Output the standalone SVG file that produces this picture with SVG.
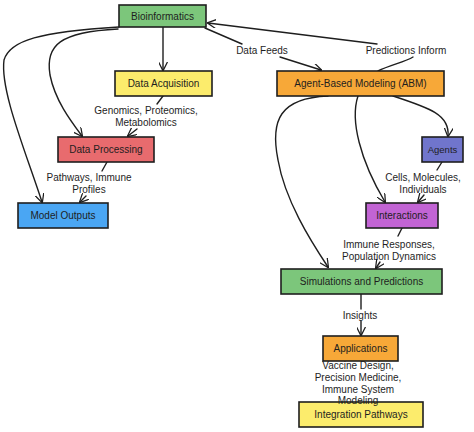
<svg xmlns="http://www.w3.org/2000/svg" width="474" height="432" viewBox="0 0 474 432">
<defs>
<marker id="ah" viewBox="0 0 10 10" refX="9" refY="5" markerWidth="9" markerHeight="9" orient="auto-start-reverse" markerUnits="userSpaceOnUse">
<path d="M0,0 L10,5 L0,10" fill="none" stroke="#1e1e1e" stroke-width="1.4"/>
</marker>
<style>
.box{stroke:#1e1e1e;stroke-width:1.6}
.t{font-family:"Liberation Sans",Arial,sans-serif;font-size:10px;fill:#1e1e1e;text-anchor:middle;dominant-baseline:central}
.e{fill:none;stroke:#1e1e1e;stroke-width:1.4;stroke-linecap:round}
</style>
</defs>
<rect width="474" height="432" fill="#ffffff"/>
<g id="connectors">
<path class="e" d="M163,27 L163,70" marker-end="url(#ah)"/>
<path class="e" d="M118,29 C60,32 45,45 50,75 C55,100 70,120 82,136" marker-end="url(#ah)"/>
<path class="e" d="M119,27 C40,32 10,40 4,60 C0,90 25,150 42,202" marker-end="url(#ah)"/>
<path class="e" d="M163,96 L157,104"/>
<path class="e" d="M137,129 L128,136" marker-end="url(#ah)"/>
<path class="e" d="M107,162 L102,171"/>
<path class="e" d="M86,196 L80,202" marker-end="url(#ah)"/>
<path class="e" d="M205,28 L242,44"/>
<path class="e" d="M280,57 L321,70" marker-end="url(#ah)"/>
<path class="e" d="M378,71 C390,65 405,62 413,57"/>
<path class="e" d="M377,44 L208,23" marker-end="url(#ah)"/>
<path class="e" d="M393,96 C430,108 450,115 448,136" marker-end="url(#ah)"/>
<path class="e" d="M358,96 C350,120 360,160 385,202" marker-end="url(#ah)"/>
<path class="e" d="M328,96 C280,98 270,120 278,160 C285,200 310,240 328,267" marker-end="url(#ah)"/>
<path class="e" d="M442,162 L437,170"/>
<path class="e" d="M424,195 L418,202" marker-end="url(#ah)"/>
<path class="e" d="M402,228 L398,236"/>
<path class="e" d="M380,262 L376,268" marker-end="url(#ah)"/>
<path class="e" d="M361,294 L361,309"/>
<path class="e" d="M361,321 L361,335" marker-end="url(#ah)"/>
</g>
<g id="labels">
<text class="t" x="262" y="50">Data Feeds</text>
<text class="t" x="406" y="50">Predictions Inform</text>
<text class="t" x="146" y="110">Genomics, Proteomics,</text>
<text class="t" x="146" y="122">Metabolomics</text>
<text class="t" x="89" y="177">Pathways, Immune</text>
<text class="t" x="89" y="189">Profiles</text>
<text class="t" x="423" y="177">Cells, Molecules,</text>
<text class="t" x="423" y="189">Individuals</text>
<text class="t" x="389" y="244">Immune Responses,</text>
<text class="t" x="389" y="256">Population Dynamics</text>
<text class="t" x="360" y="315">Insights</text>
</g>
<g id="n-bioinformatics"><rect class="box" x="119" y="5" width="87" height="22" fill="#7cc67b"/><text class="t" x="162.5" y="16">Bioinformatics</text></g>
<g id="n-data-acquisition"><rect class="box" x="115" y="71" width="97" height="25" fill="#fcec6c"/><text class="t" x="163.5" y="83.5">Data Acquisition</text></g>
<g id="n-data-processing"><rect class="box" x="58" y="137" width="96" height="25" fill="#e86b6e"/><text class="t" x="106" y="149.5">Data Processing</text></g>
<g id="n-model-outputs"><rect class="box" x="18" y="203" width="90" height="25" fill="#4aa6f3"/><text class="t" x="63" y="215.5">Model Outputs</text></g>
<g id="n-abm"><rect class="box" x="277" y="71" width="167" height="25" fill="#f7a838"/><text class="t" x="360.5" y="83.5">Agent-Based Modeling (ABM)</text></g>
<g id="n-agents"><rect class="box" x="422" y="137" width="41" height="25" fill="#7075cc"/><text class="t" x="442.5" y="149.5" style="font-size:9.5px">Agents</text></g>
<g id="n-interactions"><rect class="box" x="366" y="203" width="72" height="25" fill="#c264d4"/><text class="t" x="402" y="215.5">Interactions</text></g>
<g id="n-simulations"><rect class="box" x="281" y="269" width="161" height="25" fill="#7cc67b"/><text class="t" x="361.5" y="281.5">Simulations and Predictions</text></g>
<g id="n-applications"><rect class="box" x="323" y="336" width="75" height="25" fill="#f7a838"/><text class="t" x="360.5" y="348.5">Applications</text></g>
<g id="n-integration"><rect class="box" x="299" y="402" width="124" height="25" fill="#fcec6c"/><text class="t" x="361" y="414.5">Integration Pathways</text></g>
<g id="label-applications">
<text class="t" x="358" y="365">Vaccine Design,</text>
<text class="t" x="358" y="377">Precision Medicine,</text>
<text class="t" x="358" y="389">Immune System</text>
<text class="t" x="358" y="400">Modeling</text>
</g>
</svg>
